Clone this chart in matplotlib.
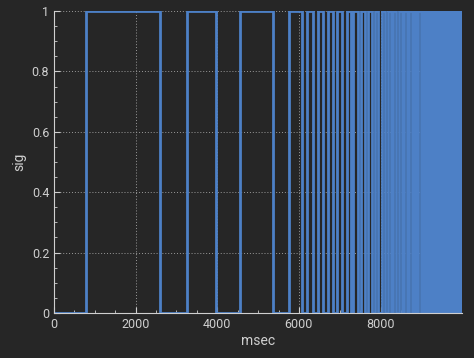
import matplotlib
matplotlib.use("Agg")
import matplotlib.pyplot as plt
from matplotlib.ticker import MultipleLocator

# transition times (msec) of the square-wave signal; starts at 0
transitions = [785, 2600, 3264, 3975, 4564, 5374, 5767, 6086, 6209, 6356,
               6479, 6601, 6724, 6847, 6945, 7067, 7190, 7264, 7337, 7436,
               7526, 7614, 7700, 7784, 7866, 7946, 8024, 8100, 8174, 8246,
               8316, 8384, 8450, 8515, 8579, 8641, 8701, 8759, 8816, 8872,
               8927, 8981, 9033, 9083, 9132, 9180, 9227, 9273, 9318, 9362,
               9405, 9447, 9488, 9528, 9568, 9607, 9645, 9682, 9718, 9753,
               9788, 9822, 9855, 9887, 9919, 9950, 9980]
t_start = 0
t_end = 9999
start_level = 0
x_ticks = [0, 2000, 4000, 6000, 8000]
y_ticks = [0, 0.2, 0.4, 0.6, 0.8, 1]
y_ticklabels = ["0", "0.2", "0.4", "0.6", "0.8", "1"]

# build step arrays
xs = [t_start]
ys = [start_level]
level = start_level
for t in transitions:
    xs.append(t); ys.append(level)
    level = 1 - level
    xs.append(t); ys.append(level)
xs.append(t_end); ys.append(level)

bg = "#262626"
fg = "#cfcfcf"
plt.rcParams["font.family"] = ["Roboto", "DejaVu Sans"]

fig = plt.figure(figsize=(4.74, 3.58), dpi=100, facecolor=bg)
ax = fig.add_axes([0.114, 0.126, 0.861, 0.843], facecolor=bg)
ax.plot(xs, ys, color="#4d80c6", lw=2.0, solid_joinstyle="miter")

ax.set_xlim(t_start, t_end)
ax.set_ylim(0, 1)
ax.set_xticks(x_ticks)
ax.set_yticks(y_ticks)
ax.set_yticklabels(y_ticklabels)
ax.xaxis.set_minor_locator(MultipleLocator(500))
ax.yaxis.set_minor_locator(MultipleLocator(0.05))
ax.tick_params(which="both", direction="in", colors=fg, labelsize=9)
ax.tick_params(which="major", length=4)
ax.tick_params(which="minor", length=2)
ax.tick_params(top=False, right=False)
for s in ["top", "right"]:
    ax.spines[s].set_visible(False)
for s in ["left", "bottom"]:
    ax.spines[s].set_color(fg)
    ax.spines[s].set_linewidth(0.8)
ax.grid(True, which="major", color="#9a9a9a", linestyle=(0, (1, 2)), linewidth=0.7)
ax.set_axisbelow(True)
ax.set_xlabel("msec", color=fg, fontsize=10, labelpad=2)
ax.set_ylabel("sig", color=fg, fontsize=10, labelpad=4)

fig.savefig("out.png", dpi=100, facecolor=bg)
